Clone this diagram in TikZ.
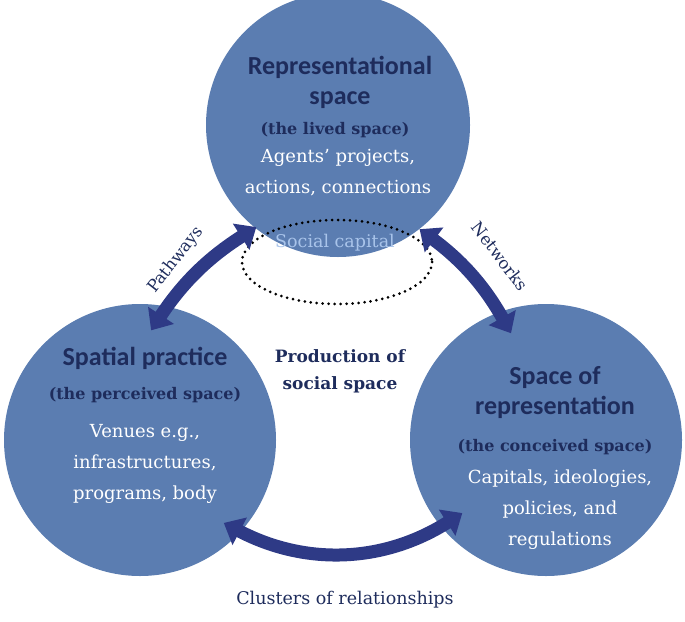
\documentclass[tikz,border=0pt]{standalone}
\usepackage{fontspec}
\setmainfont{DejaVu Serif}
\newfontfamily\ttlfont{Carlito}
\usetikzlibrary{arrows.meta}
\definecolor{circ}{HTML}{5B7DB1}
\definecolor{navy}{HTML}{2E3A86}
\definecolor{ttl}{HTML}{1E2C5C}
\definecolor{lb}{HTML}{A9C4EA}
\begin{document}
\begin{tikzpicture}[x=1pt,y=-1pt,
  circ/.style={circle,fill=circ,minimum size=#1,inner sep=0pt},
  ttl/.style={font=\ttlfont\bfseries\fontsize{26}{30}\selectfont,text=ttl,align=center},
  sub/.style={font=\bfseries\fontsize{16}{18}\selectfont,text=ttl},
  body/.style={font=\fontsize{18}{31}\selectfont,text=white,align=center},
  arr/.style={navy,line width=13pt,{Triangle[width=30pt,length=18pt]}-{Triangle[width=30pt,length=18pt]},shorten <=2pt,shorten >=2pt},
  lab/.style={font=\fontsize{16.5}{19}\selectfont,text=ttl}]
\useasboundingbox (0,0) rectangle (685,621);
\node[circ=264pt] (top) at (338,125) {};
\node[circ=272pt] (left) at (140,440) {};
\node[circ=272pt] (right) at (546,440) {};
\node[ttl] (t1) at (340,82) {Representational\\space};
\node[sub] (t2) at (335,130) {(the lived space)};
\node[body] (t3) at (338,173) {Agents' projects,\\actions, connections};
\node[lb,font=\fontsize{17.5}{20}\selectfont] (sc) at (335,243) {Social capital};
\draw[ttl,line width=3pt,dash pattern=on 0pt off 6pt,line cap=round] (337,262) ellipse [x radius=95, y radius=42];
\node[ttl] (l1) at (145,358) {Spatial practice};
\node[sub] (l2) at (145,395) {(the perceived space)};
\node[body] (l3) at (145,464) {Venues e.g.,\\infrastructures,\\programs, body};
\node[ttl] (r1) at (555,393) {Space of\\representation};
\node[sub] (r2) at (555,447) {(the conceived space)};
\node[body] (r3) at (560,510) {Capitals, ideologies,\\policies, and\\regulations};
\node[ttl,font=\bfseries\fontsize{17}{27}\selectfont] (c) at (340,371) {Production of\\social space};
\coordinate (p1) at (258,226); \coordinate (p2) at (150,332);
\coordinate (n1) at (418,228); \coordinate (n2) at (512,335);
\coordinate (b1) at (222,522); \coordinate (b2) at (464,512);
\draw[arr] (p1) to[bend right=12] (p2);
\draw[arr] (n1) to[bend left=12] (n2);
\draw[arr] (b1) to[bend right=30] (b2);
\node[lab,rotate=52] (pw) at (176,260) {Pathways};
\node[lab,rotate=-52] (nw) at (500,256) {Networks};
\node[lab,font=\fontsize{17.5}{20}\selectfont] (cl) at (345,600) {Clusters of relationships};
\end{tikzpicture}
\end{document}
